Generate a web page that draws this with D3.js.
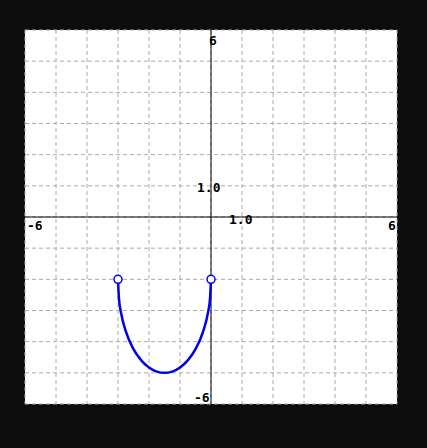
<!DOCTYPE html><html><head><script src="https://cdn.jsdelivr.net/npm/d3@7"></script>
<style>body{margin:0;background:#0d0d0d}</style></head><body><svg id="c" width="427" height="448"></svg>
<script>
const curveX=[-3,-2.97,-2.9,-2.75,-2.5,-2.25,-2,-1.75,-1.5,-1.25,-1,-0.75,-0.5,-0.25,-0.1,-0.03,0];
const curveY=[-2,-2.6,-3.08,-3.66,-4.24,-4.6,-4.83,-4.96,-5,-4.96,-4.83,-4.6,-4.24,-3.66,-3.08,-2.6,-2];
const openPts=[[-3,-2],[0,-2]];
const ticks=d3.range(-6,7);
const svg=d3.select("#c");
const x=d3.scaleLinear([-6,6],[25,397]), y=d3.scaleLinear([-6,6],[404,30]);
svg.append("rect").attr("x",25).attr("y",30).attr("width",372).attr("height",374).attr("fill","#fff");
const g=svg.append("g").attr("stroke","#aaa").attr("stroke-dasharray","4,3").attr("stroke-width",1);
ticks.forEach(t=>{
 g.append("line").attr("x1",x(t)).attr("x2",x(t)).attr("y1",30).attr("y2",404);
 g.append("line").attr("y1",y(t)).attr("y2",y(t)).attr("x1",25).attr("x2",397);
});
svg.append("line").attr("x1",x(0)).attr("x2",x(0)).attr("y1",30).attr("y2",404).attr("stroke","#000");
svg.append("line").attr("y1",y(0)).attr("y2",y(0)).attr("x1",25).attr("x2",397).attr("stroke","#000");
const line=d3.line().x(d=>x(d[0])).y(d=>y(d[1])).curve(d3.curveMonotoneX);
svg.append("path").attr("d",line(curveX.map((v,i)=>[v,curveY[i]]))).attr("fill","none").attr("stroke","#0000ee").attr("stroke-width",2.5);
svg.selectAll("circle").data(openPts).join("circle").attr("cx",d=>x(d[0])).attr("cy",d=>y(d[1])).attr("r",4).attr("fill","#fff").attr("stroke","#0000ee").attr("stroke-width",1.5);
const lab=[["6",209,45],["1.0",197,192],["1.0",229,224],["-6",27,230],["6",388,230],["-6",194,402]];
svg.selectAll("text").data(lab).join("text").attr("x",d=>d[1]).attr("y",d=>d[2]).text(d=>d[0])
 .attr("font-family","DejaVu Sans Mono").attr("font-weight","bold").attr("font-size",13).attr("fill","#000");
</script></body></html>
